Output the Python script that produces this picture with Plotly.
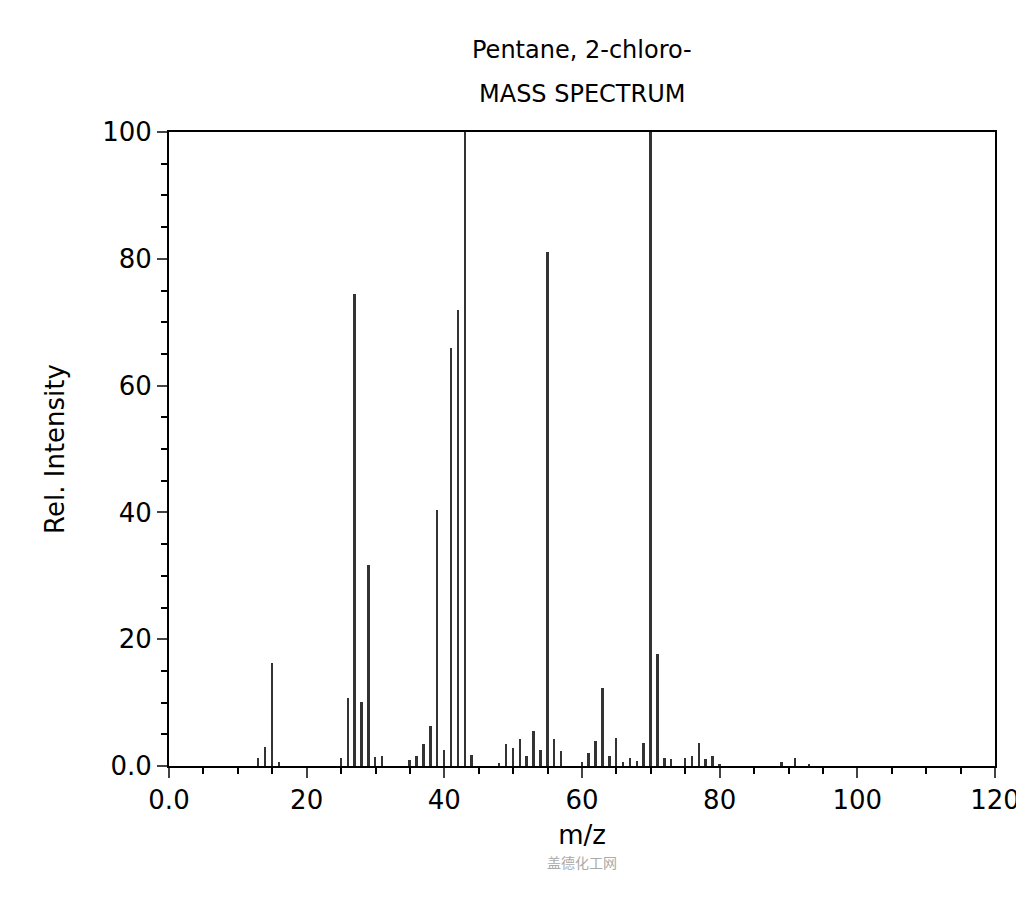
import plotly.graph_objects as go

mz = [13,14,15,16,25,26,27,28,29,30,31,35,36,37,38,39,40,41,42,43,44,
      48,49,50,51,52,53,54,55,56,57,60,61,62,63,64,65,66,67,68,69,70,71,72,73,
      75,76,77,78,79,80,89,91,93]
intensity = [1.3,3,16.3,0.6,1.2,10.8,74.5,10.1,31.7,1.4,1.5,1.0,1.5,3.5,6.3,40.4,2.5,66,72,100,1.8,
             0.5,3.5,2.8,4.2,1.5,5.6,2.6,81,4.3,2.4,0.6,2,3.9,12.3,1.6,4.4,0.6,1.2,0.8,3.6,100,17.7,1.3,1.1,
             1.3,1.5,3.6,1.1,1.5,0.3,0.6,1.2,0.3]
xticks = [0,20,40,60,80,100,120]
xticklabels = ["0.0","20","40","60","80","100","120"]
yticks = [0,20,40,60,80,100]
yticklabels = ["0.0","20","40","60","80","100"]

fig = go.Figure(go.Bar(x=mz, y=intensity, width=0.28, marker=dict(color="#333333", line=dict(width=0))))
font = "DejaVu Sans"
fig.update_layout(
    width=1024, height=900, plot_bgcolor="white", paper_bgcolor="white",
    margin=dict(l=161, r=28, t=124, b=142),
    font=dict(family=font, color="black", size=22),
    showlegend=False, bargap=0,
)
fig.add_annotation(text="Pentane, 2-chloro-", x=0.5, y=820, xref="paper", yref="paper", showarrow=False)
fig.add_annotation(text="Pentane, 2-chloro-", x=580, y=857, xref="paper", yref="paper", showarrow=False, visible=False)
fig.layout.annotations = []
fig.add_annotation(text="Pentane, 2-chloro-", x=0.5, y=1.155, xref="paper", yref="paper", showarrow=False,
                   font=dict(size=24))
fig.add_annotation(text="MASS SPECTRUM", x=0.5, y=1.085, xref="paper", yref="paper", showarrow=False,
                   font=dict(size=24))
fig.update_xaxes(range=[0,120], tickvals=xticks, ticktext=xticklabels, ticks="outside", ticklen=10, tickwidth=2,
                 showline=True, linewidth=2, linecolor="black", mirror=True, showgrid=False, zeroline=False,
                 minor=dict(dtick=5, ticks="outside", ticklen=6, tickwidth=2, tickcolor="black"),
                 title=dict(text="m/z", font=dict(size=26), standoff=12), tickfont=dict(size=26))
fig.update_yaxes(range=[0,100], tickvals=yticks, ticktext=yticklabels, ticks="outside", ticklen=10, tickwidth=2,
                 showline=True, linewidth=2, linecolor="black", mirror=True, showgrid=False, zeroline=False,
                 minor=dict(dtick=5, ticks="outside", ticklen=6, tickwidth=2, tickcolor="black"),
                 title=dict(text="Rel. Intensity", font=dict(size=26), standoff=30), tickfont=dict(size=26))
fig.add_annotation(text="盖德化工网", x=0.5, y=-0.17, xref="paper", yref="paper", showarrow=False,
                   font=dict(family="Noto Sans CJK SC", size=14, color="#aaaaaa"))
fig.write_html("out.html")
